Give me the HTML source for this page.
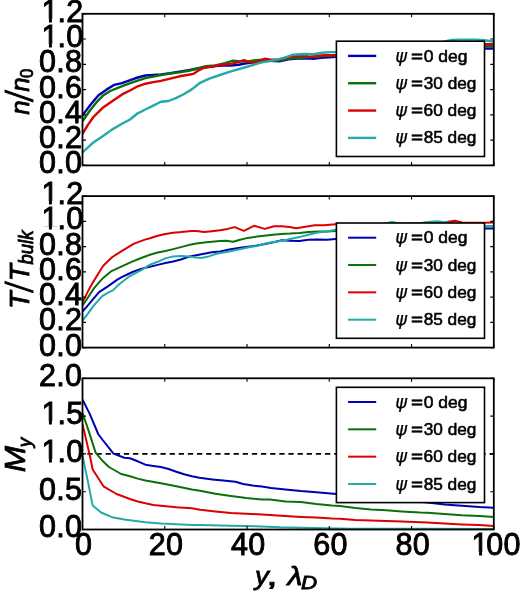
<!DOCTYPE html><html><head><meta charset="utf-8"><style>html,body{margin:0;padding:0;background:#fff;overflow:hidden}svg{display:block}text{font-family:"Liberation Sans",Arial,sans-serif;fill:#000;stroke:#000;stroke-width:0.55px;font-kerning:none}.tl{stroke-width:0.90px}.lb{stroke-width:0.80px}.sl{stroke-width:0.9px}.ps{stroke-width:0.25px}</style></head><body>
<svg width="520" height="596" viewBox="0 0 520 596">
<rect width="520" height="596" fill="#fff"/>
<clipPath id="cp0"><rect x="82.5" y="13.8" width="411.30" height="151.60"/></clipPath>
<g clip-path="url(#cp0)" fill="none" stroke-linejoin="round" stroke-linecap="butt">
<polyline points="82.5,115.4 90.1,105.3 98.5,95.2 106.8,89.4 114.4,84.8 121.9,83.2 130.3,80.1 137.7,77.5 145.4,75.5 153.2,75.0 160.9,74.4 170.2,73.2 179.4,71.6 188.7,70.1 198.0,68.2 207.7,67.0 215.4,66.0 223.2,65.5 230.9,65.5 238.6,64.7 246.3,63.2 254.1,62.4 261.8,60.8 270.0,60.9 279.3,61.4 288.5,59.4 297.8,58.6 307.1,58.3 313.2,58.9 321.0,57.8 328.7,57.4 336.4,56.8 400.0,53.0 484.0,48.5 494.0,48.5" stroke="#0000b4" stroke-width="2.4"/>
<polyline points="82.5,121.2 90.1,110.3 97.6,101.1 103.5,95.2 110.2,91.0 120.3,86.8 130.3,83.2 137.7,80.6 145.4,78.1 153.2,76.6 160.9,75.0 170.2,73.5 179.4,72.4 188.7,70.8 198.0,68.5 205.7,66.2 215.4,65.5 224.7,63.2 232.4,60.8 238.6,61.3 246.3,61.6 254.1,60.5 261.8,59.8 270.0,60.5 279.3,60.5 288.5,58.6 297.8,57.8 307.1,57.4 316.3,56.8 325.6,55.8 336.4,55.5 400.0,50.0 484.0,45.8 494.0,45.8" stroke="#0b700b" stroke-width="2.4"/>
<polyline points="82.5,133.8 87.6,125.4 93.4,117.0 102.7,107.8 113.6,100.3 123.6,93.6 130.0,90.5 137.7,86.3 145.4,83.7 153.2,82.1 160.9,80.9 170.2,78.6 179.4,76.3 187.1,75.0 193.3,73.9 198.0,70.8 204.6,67.5 212.4,66.6 220.1,65.0 230.9,63.9 237.1,62.4 244.0,60.1 252.5,62.9 258.7,61.6 264.9,58.8 271.0,59.8 276.2,59.8 285.4,57.8 294.7,56.3 304.0,55.5 310.2,56.8 319.4,55.5 328.7,55.2 336.4,55.2 400.0,49.0 484.0,44.3 494.0,44.3" stroke="#dc0000" stroke-width="2.4"/>
<polyline points="82.5,152.3 92.6,143.1 102.7,136.3 111.9,129.6 121.9,123.8 130.0,119.5 137.7,113.3 145.4,109.5 153.2,105.6 160.9,101.7 168.6,101.0 176.3,97.9 184.1,94.0 191.8,89.4 199.5,83.2 209.3,78.6 218.5,75.5 227.8,72.4 237.1,69.7 246.3,67.0 254.1,64.7 261.8,62.4 270.0,61.0 282.4,58.3 293.2,54.7 304.0,54.0 313.2,54.3 322.5,52.7 330.2,52.1 336.4,52.1 400.0,47.0 440.0,43.0 447.0,41.0 452.0,40.0 460.0,39.6 475.0,39.6 484.0,40.2 494.0,41.5" stroke="#22aaa8" stroke-width="2.4"/>
</g>
<path d="M82.50 165.40v-3.5M82.50 13.80v3.5M164.76 165.40v-3.5M164.76 13.80v3.5M247.02 165.40v-3.5M247.02 13.80v3.5M329.28 165.40v-3.5M329.28 13.80v3.5M411.54 165.40v-3.5M411.54 13.80v3.5M493.80 165.40v-3.5M493.80 13.80v3.5M82.50 165.40h3.5M493.80 165.40h-3.5M82.50 140.13h3.5M493.80 140.13h-3.5M82.50 114.87h3.5M493.80 114.87h-3.5M82.50 89.60h3.5M493.80 89.60h-3.5M82.50 64.33h3.5M493.80 64.33h-3.5M82.50 39.07h3.5M493.80 39.07h-3.5M82.50 13.80h3.5M493.80 13.80h-3.5" stroke="#000" stroke-width="1.1" fill="none"/>
<rect x="82.5" y="13.8" width="411.30" height="151.60" fill="none" stroke="#000" stroke-width="1.8"/>
<text class="tl" x="38.90" y="173.30" font-size="30.5" letter-spacing="0.3">0.0</text>
<text class="tl" x="38.90" y="148.03" font-size="30.5" letter-spacing="0.3">0.2</text>
<text class="tl" x="38.90" y="122.77" font-size="30.5" letter-spacing="0.3">0.4</text>
<text class="tl" x="38.90" y="97.50" font-size="30.5" letter-spacing="0.3">0.6</text>
<text class="tl" x="38.90" y="72.23" font-size="30.5" letter-spacing="0.3">0.8</text>
<text class="tl" x="41.40" y="46.97" font-size="30.5" letter-spacing="0.3">1</text><text class="tl" x="57.46" y="46.97" font-size="30.5" letter-spacing="0.3">.0</text>
<text class="tl" x="41.40" y="21.70" font-size="30.5" letter-spacing="0.3">1</text><text class="tl" x="57.46" y="21.70" font-size="30.5" letter-spacing="0.3">.2</text>
<clipPath id="cp1"><rect x="82.5" y="196.1" width="411.30" height="151.50"/></clipPath>
<g clip-path="url(#cp1)" fill="none" stroke-linejoin="round" stroke-linecap="butt">
<polyline points="82.5,311.5 88.1,305.2 93.1,299.2 99.1,292.2 108.2,286.1 117.3,279.6 121.7,277.1 132.5,272.0 141.8,268.6 150.0,266.7 157.7,264.9 165.4,263.0 173.2,261.5 180.9,259.5 188.6,256.8 196.3,255.3 204.1,253.7 211.8,252.2 220.0,251.5 229.3,249.5 238.5,247.9 247.8,246.8 257.1,245.6 266.3,243.7 275.6,241.7 281.8,240.2 289.5,240.7 299.3,241.0 308.5,239.7 317.8,239.4 327.1,239.7 335.6,239.1 484.0,228.6 494.0,228.6" stroke="#0000b4" stroke-width="2.0"/>
<polyline points="82.5,305.8 88.1,297.2 94.1,288.1 100.2,281.1 103.2,277.9 110.9,271.4 120.2,267.1 131.0,262.1 141.8,257.8 150.0,254.8 157.7,252.5 165.4,251.0 173.2,249.1 180.9,247.1 188.6,245.1 196.3,243.6 204.1,242.5 211.8,241.7 219.5,240.9 226.2,240.7 233.1,241.7 240.1,239.7 247.8,237.9 257.1,236.6 266.3,235.6 275.6,234.5 284.9,233.7 290.0,233.6 299.3,232.9 308.5,232.0 317.8,231.4 327.1,231.4 335.6,230.9 484.0,226.3 494.0,226.3" stroke="#0b700b" stroke-width="2.0"/>
<polyline points="82.5,302.4 88.1,291.1 93.1,282.1 98.1,274.0 103.2,265.8 112.4,257.0 123.2,250.1 134.1,243.6 144.9,239.6 150.0,238.3 157.7,235.8 165.4,234.0 173.2,232.7 180.9,232.1 191.7,230.9 196.3,230.9 204.1,232.1 211.8,231.2 220.0,230.2 227.7,228.9 234.7,227.1 243.9,230.9 254.0,225.8 264.8,228.9 274.1,226.3 281.8,226.3 289.5,227.1 296.2,228.3 305.4,226.8 314.7,225.2 324.0,225.2 335.6,224.3 400.0,224.0 430.0,222.5 446.0,222.0 455.0,220.8 462.0,222.5 484.0,222.8 494.0,222.5" stroke="#dc0000" stroke-width="2.0"/>
<polyline points="82.5,320.6 88.1,313.3 93.1,306.3 102.2,296.2 108.2,292.7 113.2,290.1 118.6,284.8 129.4,276.3 141.8,269.8 150.0,264.6 157.7,261.8 165.4,258.4 173.2,256.4 180.9,255.9 188.6,256.4 196.3,257.5 201.0,257.9 208.7,256.4 216.4,253.7 222.0,252.8 229.3,251.5 238.5,249.5 247.8,247.5 257.1,245.9 266.3,243.3 275.6,241.7 284.9,240.2 292.6,238.6 299.3,237.1 308.5,234.8 317.8,232.5 327.1,231.4 335.6,229.8 385.0,223.5 392.0,222.0 400.0,223.5 420.0,223.5 428.0,222.0 437.0,221.3 446.0,222.3 460.0,224.5 484.0,226.0 494.0,226.0" stroke="#22aaa8" stroke-width="2.0"/>
</g>
<path d="M82.50 347.60v-3.5M82.50 196.10v3.5M164.76 347.60v-3.5M164.76 196.10v3.5M247.02 347.60v-3.5M247.02 196.10v3.5M329.28 347.60v-3.5M329.28 196.10v3.5M411.54 347.60v-3.5M411.54 196.10v3.5M493.80 347.60v-3.5M493.80 196.10v3.5M82.50 347.60h3.5M493.80 347.60h-3.5M82.50 322.35h3.5M493.80 322.35h-3.5M82.50 297.10h3.5M493.80 297.10h-3.5M82.50 271.85h3.5M493.80 271.85h-3.5M82.50 246.60h3.5M493.80 246.60h-3.5M82.50 221.35h3.5M493.80 221.35h-3.5M82.50 196.10h3.5M493.80 196.10h-3.5" stroke="#000" stroke-width="1.1" fill="none"/>
<rect x="82.5" y="196.1" width="411.30" height="151.50" fill="none" stroke="#000" stroke-width="1.8"/>
<text class="tl" x="38.90" y="355.50" font-size="30.5" letter-spacing="0.3">0.0</text>
<text class="tl" x="38.90" y="330.25" font-size="30.5" letter-spacing="0.3">0.2</text>
<text class="tl" x="38.90" y="305.00" font-size="30.5" letter-spacing="0.3">0.4</text>
<text class="tl" x="38.90" y="279.75" font-size="30.5" letter-spacing="0.3">0.6</text>
<text class="tl" x="38.90" y="254.50" font-size="30.5" letter-spacing="0.3">0.8</text>
<text class="tl" x="41.40" y="229.25" font-size="30.5" letter-spacing="0.3">1</text><text class="tl" x="57.46" y="229.25" font-size="30.5" letter-spacing="0.3">.0</text>
<text class="tl" x="41.40" y="204.00" font-size="30.5" letter-spacing="0.3">1</text><text class="tl" x="57.46" y="204.00" font-size="30.5" letter-spacing="0.3">.2</text>
<clipPath id="cp2"><rect x="82.5" y="378.3" width="411.30" height="151.20"/></clipPath>
<g clip-path="url(#cp2)" fill="none" stroke-linejoin="round" stroke-linecap="butt">
<line x1="78.2" y1="453.90" x2="493.8" y2="453.90" stroke="#000" stroke-width="1.8" stroke-dasharray="5.3 3.84"/>
<polyline points="82.6,399.7 89.6,413.6 98.2,434.0 102.7,440.0 113.5,453.6 124.3,457.7 130.0,458.2 137.7,461.3 145.4,464.7 153.2,465.9 160.9,467.0 168.6,469.0 176.3,471.7 184.1,474.3 191.8,476.3 199.5,477.8 212.4,479.4 223.2,480.5 235.5,481.7 243.2,484.0 252.5,485.6 261.8,486.6 271.0,487.9 285.4,489.4 300.9,491.0 316.3,492.2 336.4,494.1 427.3,502.6 444.6,504.4 461.9,505.7 479.2,507.1 494.0,507.8" stroke="#0000b4" stroke-width="2.0"/>
<polyline points="82.6,413.0 89.2,432.6 95.6,452.6 101.5,459.7 108.9,467.0 121.2,474.0 130.0,476.3 137.7,478.6 145.4,480.5 160.9,483.2 176.3,486.3 191.8,489.4 200.0,490.7 215.4,493.7 230.9,495.9 246.3,497.9 261.8,499.5 270.0,499.5 285.4,501.5 300.9,502.1 316.3,504.1 331.8,505.6 340.0,506.1 355.4,508.0 370.9,509.5 386.3,510.3 401.8,511.4 420.0,512.6 427.3,512.7 444.6,514.0 461.9,515.3 479.2,516.1 494.0,517.0" stroke="#0b700b" stroke-width="2.0"/>
<polyline points="82.6,424.5 89.7,455.0 92.7,469.5 103.5,486.3 116.6,494.0 130.0,499.0 137.7,501.5 145.4,503.3 153.2,504.9 168.6,506.4 176.3,507.2 191.8,508.3 200.0,509.8 215.4,511.4 230.9,512.9 246.3,513.8 261.8,514.4 270.0,514.9 285.4,516.0 300.9,516.9 316.3,517.5 331.8,518.5 340.0,518.8 355.4,520.0 370.9,520.6 386.3,521.1 401.8,521.6 427.3,522.4 444.6,523.4 461.9,524.4 479.2,525.1 494.0,526.0" stroke="#dc0000" stroke-width="2.0"/>
<polyline points="82.6,456.0 87.3,478.6 92.7,505.6 101.1,512.5 112.0,517.2 124.3,519.5 130.0,520.3 145.4,522.2 160.9,523.4 176.3,524.2 191.8,524.9 200.0,524.9 230.9,525.7 261.8,526.5 280.0,527.3 300.9,527.7 350.0,528.8 420.0,528.8 494.0,529.0" stroke="#22aaa8" stroke-width="2.0"/>
</g>
<path d="M82.50 529.50v-3.5M82.50 378.30v3.5M164.76 529.50v-3.5M164.76 378.30v3.5M247.02 529.50v-3.5M247.02 378.30v3.5M329.28 529.50v-3.5M329.28 378.30v3.5M411.54 529.50v-3.5M411.54 378.30v3.5M493.80 529.50v-3.5M493.80 378.30v3.5M82.50 529.50h3.5M493.80 529.50h-3.5M82.50 491.70h3.5M493.80 491.70h-3.5M82.50 453.90h3.5M493.80 453.90h-3.5M82.50 416.10h3.5M493.80 416.10h-3.5M82.50 378.30h3.5M493.80 378.30h-3.5" stroke="#000" stroke-width="1.1" fill="none"/>
<rect x="82.5" y="378.3" width="411.30" height="151.20" fill="none" stroke="#000" stroke-width="1.8"/>
<text class="tl" x="38.90" y="537.40" font-size="30.5" letter-spacing="0.3">0.0</text>
<text class="tl" x="38.90" y="499.60" font-size="30.5" letter-spacing="0.3">0.5</text>
<text class="tl" x="41.40" y="461.80" font-size="30.5" letter-spacing="0.3">1</text><text class="tl" x="57.46" y="461.80" font-size="30.5" letter-spacing="0.3">.0</text>
<text class="tl" x="41.40" y="424.00" font-size="30.5" letter-spacing="0.3">1</text><text class="tl" x="57.46" y="424.00" font-size="30.5" letter-spacing="0.3">.5</text>
<text class="tl" x="38.90" y="386.20" font-size="30.5" letter-spacing="0.3">2.0</text>
<text class="tl" x="75.02" y="555.00" font-size="30.5" letter-spacing="0.3">0</text>
<text class="tl" x="148.65" y="555.00" font-size="30.5" letter-spacing="0.3">20</text>
<text class="tl" x="230.91" y="555.00" font-size="30.5" letter-spacing="0.3">40</text>
<text class="tl" x="313.17" y="555.00" font-size="30.5" letter-spacing="0.3">60</text>
<text class="tl" x="395.43" y="555.00" font-size="30.5" letter-spacing="0.3">80</text>
<text class="tl" x="471.56" y="555.00" font-size="30.5" letter-spacing="0.3">1</text><text class="tl" x="486.32" y="555.00" font-size="30.5" letter-spacing="0.3">00</text>
<rect x="42.32" y="43.94" width="6.60" height="5.03" fill="#fff"/>
<rect x="51.92" y="43.94" width="6.36" height="5.03" fill="#fff"/>
<rect x="42.32" y="18.67" width="6.60" height="5.03" fill="#fff"/>
<rect x="51.92" y="18.67" width="6.36" height="5.03" fill="#fff"/>
<rect x="42.32" y="226.22" width="6.60" height="5.03" fill="#fff"/>
<rect x="51.92" y="226.22" width="6.36" height="5.03" fill="#fff"/>
<rect x="42.32" y="200.97" width="6.60" height="5.03" fill="#fff"/>
<rect x="51.92" y="200.97" width="6.36" height="5.03" fill="#fff"/>
<rect x="42.32" y="458.77" width="6.60" height="5.03" fill="#fff"/>
<rect x="51.92" y="458.77" width="6.36" height="5.03" fill="#fff"/>
<rect x="42.32" y="420.97" width="6.60" height="5.03" fill="#fff"/>
<rect x="51.92" y="420.97" width="6.36" height="5.03" fill="#fff"/>
<rect x="472.48" y="551.97" width="6.60" height="5.03" fill="#fff"/>
<rect x="482.07" y="551.97" width="6.36" height="5.03" fill="#fff"/>
<rect x="336.4" y="41.2" width="148.10" height="115.3" fill="#fff" stroke="#000" stroke-width="1.6"/>
<line x1="348.1" y1="55.90" x2="376.2" y2="55.90" stroke="#0000b4" stroke-width="2.4"/>
<text class="ps" style="font-family:'DejaVu Sans'" font-style="italic" font-size="16.8" transform="translate(395.24,61.50) scale(1.063,1.0)">ψ</text>
<text style="font-family:'DejaVu Sans'" font-size="16.8" transform="translate(410.19,61.50) scale(0.960,1.0)">=</text>
<text font-size="16.8" transform="translate(423.72,61.50) scale(1.042,1.0)">0 deg</text>
<line x1="348.1" y1="83.23" x2="376.2" y2="83.23" stroke="#0b700b" stroke-width="2.4"/>
<text class="ps" style="font-family:'DejaVu Sans'" font-style="italic" font-size="16.8" transform="translate(395.24,88.83) scale(1.063,1.0)">ψ</text>
<text style="font-family:'DejaVu Sans'" font-size="16.8" transform="translate(410.19,88.83) scale(0.960,1.0)">=</text>
<text font-size="16.8" transform="translate(423.74,88.83) scale(1.025,1.0)">30 deg</text>
<line x1="348.1" y1="110.56" x2="376.2" y2="110.56" stroke="#dc0000" stroke-width="2.4"/>
<text class="ps" style="font-family:'DejaVu Sans'" font-style="italic" font-size="16.8" transform="translate(395.24,116.16) scale(1.063,1.0)">ψ</text>
<text style="font-family:'DejaVu Sans'" font-size="16.8" transform="translate(410.19,116.16) scale(0.960,1.0)">=</text>
<text font-size="16.8" transform="translate(423.52,116.16) scale(1.029,1.0)">60 deg</text>
<line x1="348.1" y1="137.89" x2="376.2" y2="137.89" stroke="#22aaa8" stroke-width="2.4"/>
<text class="ps" style="font-family:'DejaVu Sans'" font-style="italic" font-size="16.8" transform="translate(395.24,143.49) scale(1.063,1.0)">ψ</text>
<text style="font-family:'DejaVu Sans'" font-size="16.8" transform="translate(410.19,143.49) scale(0.960,1.0)">=</text>
<text font-size="16.8" transform="translate(423.65,143.49) scale(1.027,1.0)">85 deg</text>
<rect x="336.4" y="223.0" width="148.10" height="115.3" fill="#fff" stroke="#000" stroke-width="1.6"/>
<line x1="348.1" y1="237.70" x2="376.2" y2="237.70" stroke="#0000b4" stroke-width="2.0"/>
<text class="ps" style="font-family:'DejaVu Sans'" font-style="italic" font-size="16.8" transform="translate(395.24,243.30) scale(1.063,1.0)">ψ</text>
<text style="font-family:'DejaVu Sans'" font-size="16.8" transform="translate(410.19,243.30) scale(0.960,1.0)">=</text>
<text font-size="16.8" transform="translate(423.72,243.30) scale(1.042,1.0)">0 deg</text>
<line x1="348.1" y1="265.03" x2="376.2" y2="265.03" stroke="#0b700b" stroke-width="2.0"/>
<text class="ps" style="font-family:'DejaVu Sans'" font-style="italic" font-size="16.8" transform="translate(395.24,270.63) scale(1.063,1.0)">ψ</text>
<text style="font-family:'DejaVu Sans'" font-size="16.8" transform="translate(410.19,270.63) scale(0.960,1.0)">=</text>
<text font-size="16.8" transform="translate(423.74,270.63) scale(1.025,1.0)">30 deg</text>
<line x1="348.1" y1="292.36" x2="376.2" y2="292.36" stroke="#dc0000" stroke-width="2.0"/>
<text class="ps" style="font-family:'DejaVu Sans'" font-style="italic" font-size="16.8" transform="translate(395.24,297.96) scale(1.063,1.0)">ψ</text>
<text style="font-family:'DejaVu Sans'" font-size="16.8" transform="translate(410.19,297.96) scale(0.960,1.0)">=</text>
<text font-size="16.8" transform="translate(423.52,297.96) scale(1.029,1.0)">60 deg</text>
<line x1="348.1" y1="319.69" x2="376.2" y2="319.69" stroke="#22aaa8" stroke-width="2.0"/>
<text class="ps" style="font-family:'DejaVu Sans'" font-style="italic" font-size="16.8" transform="translate(395.24,325.29) scale(1.063,1.0)">ψ</text>
<text style="font-family:'DejaVu Sans'" font-size="16.8" transform="translate(410.19,325.29) scale(0.960,1.0)">=</text>
<text font-size="16.8" transform="translate(423.65,325.29) scale(1.027,1.0)">85 deg</text>
<rect x="336.4" y="387.3" width="148.10" height="115.3" fill="#fff" stroke="#000" stroke-width="1.6"/>
<line x1="348.1" y1="402.00" x2="376.2" y2="402.00" stroke="#0000b4" stroke-width="2.0"/>
<text class="ps" style="font-family:'DejaVu Sans'" font-style="italic" font-size="16.8" transform="translate(395.24,407.60) scale(1.063,1.0)">ψ</text>
<text style="font-family:'DejaVu Sans'" font-size="16.8" transform="translate(410.19,407.60) scale(0.960,1.0)">=</text>
<text font-size="16.8" transform="translate(423.72,407.60) scale(1.042,1.0)">0 deg</text>
<line x1="348.1" y1="429.33" x2="376.2" y2="429.33" stroke="#0b700b" stroke-width="2.0"/>
<text class="ps" style="font-family:'DejaVu Sans'" font-style="italic" font-size="16.8" transform="translate(395.24,434.93) scale(1.063,1.0)">ψ</text>
<text style="font-family:'DejaVu Sans'" font-size="16.8" transform="translate(410.19,434.93) scale(0.960,1.0)">=</text>
<text font-size="16.8" transform="translate(423.74,434.93) scale(1.025,1.0)">30 deg</text>
<line x1="348.1" y1="456.66" x2="376.2" y2="456.66" stroke="#dc0000" stroke-width="2.0"/>
<text class="ps" style="font-family:'DejaVu Sans'" font-style="italic" font-size="16.8" transform="translate(395.24,462.26) scale(1.063,1.0)">ψ</text>
<text style="font-family:'DejaVu Sans'" font-size="16.8" transform="translate(410.19,462.26) scale(0.960,1.0)">=</text>
<text font-size="16.8" transform="translate(423.52,462.26) scale(1.029,1.0)">60 deg</text>
<line x1="348.1" y1="483.99" x2="376.2" y2="483.99" stroke="#22aaa8" stroke-width="2.0"/>
<text class="ps" style="font-family:'DejaVu Sans'" font-style="italic" font-size="16.8" transform="translate(395.24,489.59) scale(1.063,1.0)">ψ</text>
<text style="font-family:'DejaVu Sans'" font-size="16.8" transform="translate(410.19,489.59) scale(0.960,1.0)">=</text>
<text font-size="16.8" transform="translate(423.65,489.59) scale(1.027,1.0)">85 deg</text>
<text class="lb" font-style="italic" font-size="26" transform="translate(28.70,114.83) rotate(-90) scale(0.996,1.0)">n</text>
<text class="sl" style="font-family:'DejaVu Sans'" font-weight="200" font-size="34" transform="translate(30.00,102.40) rotate(-90) scale(1.135,1.0)">/</text>
<text class="lb" font-style="italic" font-size="26" transform="translate(28.70,91.83) rotate(-90) scale(0.996,1.0)">n</text>
<text class="lb" font-size="18.5" transform="translate(32.70,77.96) rotate(-90) scale(0.916,1.0)">0</text>
<text class="lb" font-style="italic" font-size="28.2" transform="translate(28.60,308.97) rotate(-90) scale(1.015,1.0)">T</text>
<text class="sl" style="font-family:'DejaVu Sans'" font-weight="200" font-size="34" transform="translate(30.00,293.18) rotate(-90) scale(1.087,1.0)">/</text>
<text class="lb" font-style="italic" font-size="28.2" transform="translate(28.60,281.31) rotate(-90) scale(0.990,1.0)">T</text>
<text class="lb" font-style="italic" font-size="19.3" transform="translate(32.70,264.46) rotate(-90) scale(0.957,1.0)">bulk</text>
<text class="lb" font-style="italic" font-size="28.6" transform="translate(25.40,472.37) rotate(-90) scale(1.098,1.0)">M</text>
<text class="lb" font-style="italic" font-size="18.9" transform="translate(30.60,447.33) rotate(-90) scale(1.003,1.0)">y</text>
<text class="lb" font-style="italic" font-size="26.5" transform="translate(255.07,585.30) scale(1.045,1.0)">y</text>
<text class="lb" font-size="26.5" transform="translate(266.14,585.30) scale(1.538,1.0)">,</text>
<text class="lb" font-style="italic" font-size="26.5" transform="translate(287.57,585.30) scale(1.137,1.0)">λ</text>
<text class="lb" font-style="italic" font-size="18" transform="translate(301.11,589.40) scale(1.239,1.0)">D</text>
</svg></body></html>
